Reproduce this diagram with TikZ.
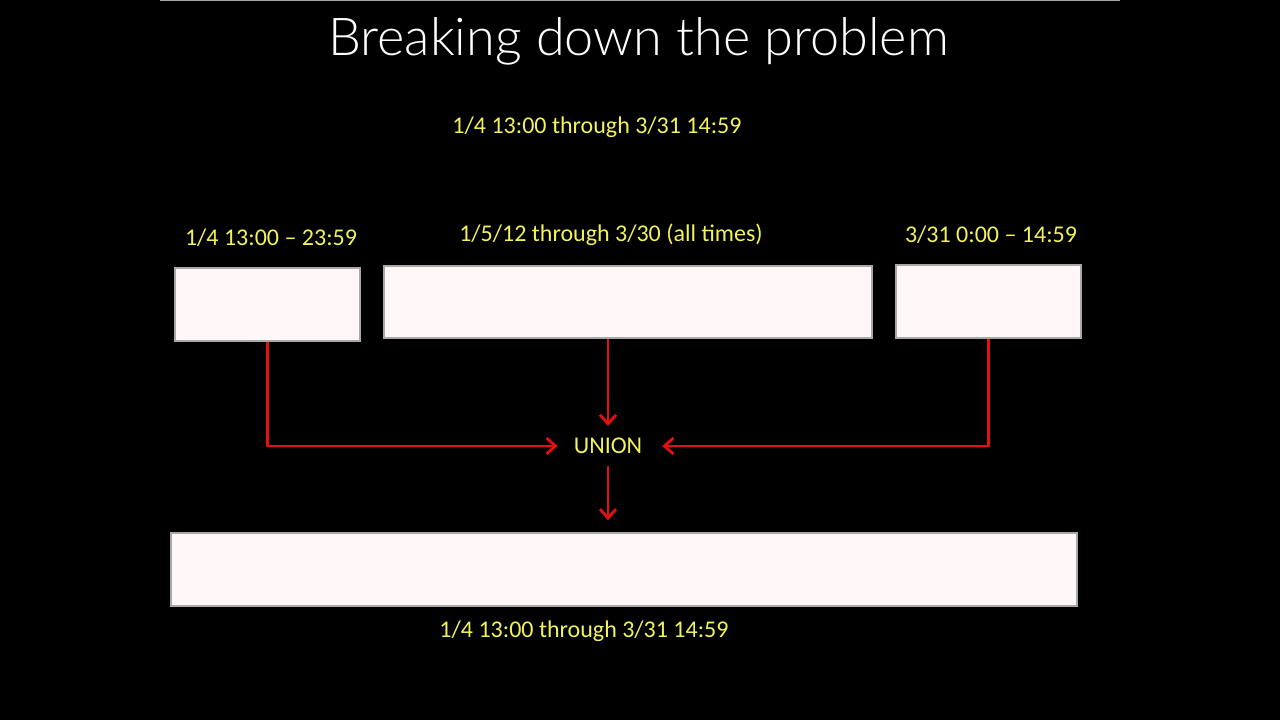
\documentclass[tikz,border=0pt]{standalone}
\usepackage{fontspec}
\setmainfont{Carlito}
\newfontfamily\titlefont{Lato Light}
\usetikzlibrary{arrows.meta}
\definecolor{lbl}{HTML}{F2F25A}
\definecolor{arr}{HTML}{E41010}
\definecolor{boxfill}{HTML}{FFF7F7}
\definecolor{boxedge}{HTML}{A8A8A8}
\tikzset{
  box/.style={draw=boxedge, line width=1.6pt, fill=boxfill, minimum height=73pt, inner sep=0pt},
  lbltext/.style={text=lbl, font=\fontsize{24}{28}\selectfont, inner sep=0pt},
  conn/.style={draw=arr, line width=2.8pt, -{Straight Barb[length=9pt,width=16pt,line width=2.8pt]}},
}
\begin{document}
\begin{tikzpicture}[x=1pt,y=-1pt]
\fill[black] (0,0) rectangle (1280,720);
\useasboundingbox (0,0) rectangle (1280,720);
\draw[gray!70, line width=1.2pt] (160,0.6) -- (1120,0.6);
\node[text=white, font=\titlefont\fontsize{52.2}{58}\selectfont, inner sep=0pt] (title) at (638.5,41) {Breaking down the problem};

\node[lbltext] (top) at (597,127) {1/4 13:00 through 3/31 14:59};

\node[box, minimum width=185pt] (b1) at (267.5,304.5) {};
\node[box, minimum width=488pt, minimum height=72pt] (b2) at (628,302) {};
\node[box, minimum width=185pt] (b3) at (988.5,301.5) {};
\node[box, minimum width=906pt] (b4) at (624,569.5) {};

\node[lbltext] (l1) at (271,238) {1/4 13:00 – 23:59};
\node[lbltext] (l2) at (611,235) {1/5/12 through 3/30 (all times)};
\node[lbltext] (l3) at (991,235) {3/31 0:00 – 14:59};

\node[lbltext, inner xsep=17pt, inner ysep=12pt] (union) at (608,446) {UNION};

\node[lbltext] (bot) at (584,631) {1/4 13:00 through 3/31 14:59};

\draw[conn] (b1.south) |- ([xshift=1pt]union.west);
\draw[conn] (b3.south) |- ([xshift=3pt]union.east);
\draw[conn] (union.north |- b2.south) -- (union.north);
\draw[conn, shorten >=12pt] (union.south) -- (union.south |- b4.north);
\end{tikzpicture}
\end{document}
